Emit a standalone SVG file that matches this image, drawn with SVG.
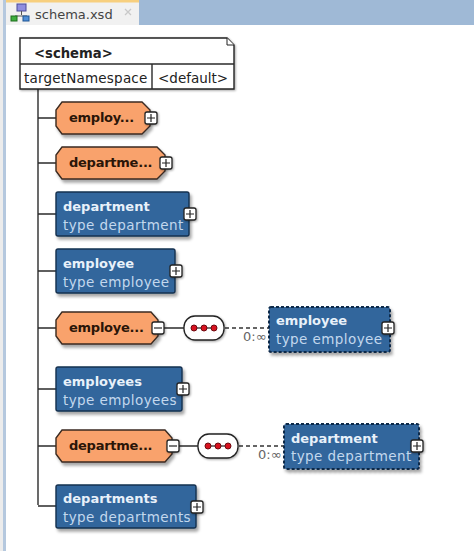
<svg xmlns="http://www.w3.org/2000/svg" width="474" height="551" viewBox="0 0 474 551">
<style>
text{font-family:"DejaVu Sans",sans-serif}
.line{stroke:#2b2b2b;stroke-width:1.4;fill:none}
.dash{stroke:#333;stroke-width:1.4;fill:none;stroke-dasharray:4 3}
.orange{fill:#f9a26c;stroke:#3a2a20;stroke-width:1.4;filter:url(#sh)}
.blue{fill:#33669c;stroke:#14304f;stroke-width:1.4;filter:url(#sh)}
.blued{fill:#33669c;stroke:#0f2a4a;stroke-width:2;stroke-dasharray:3 2;filter:url(#sh)}
.t1{font-size:13px;font-weight:700;fill:#2a1508;letter-spacing:-.25px}
.b1{font-size:13px;font-weight:700;fill:#e8f1fa}
.b2{font-size:13.5px;fill:#c3d8ee;letter-spacing:.42px}
.s{font-size:13.5px;fill:#222;letter-spacing:.2px}
.occ{font-size:13px;fill:#666}
.box{fill:#fff;stroke:#222;stroke-width:1.3;filter:url(#sh2)}
.sym{stroke:#222;stroke-width:1.2;fill:none}
.dot{fill:#d8121f;stroke:#6d0a10;stroke-width:1}
</style>
<defs>
<filter id="sh" x="-10%" y="-15%" width="125%" height="140%"><feDropShadow dx="2" dy="3" stdDeviation="1.6" flood-color="#000" flood-opacity=".35"/></filter>
<filter id="sh2" x="-30%" y="-30%" width="170%" height="170%"><feDropShadow dx="1" dy="1" stdDeviation=".8" flood-color="#000" flood-opacity=".35"/></filter>
<g id="plus"><rect class="box" x="-6" y="-6" width="12" height="12" rx="2"/><path class="sym" d="M-4 0H4M0-4V4"/></g>
<g id="minus"><rect class="box" x="-6" y="-6" width="12" height="12" rx="2"/><path class="sym" d="M-4 0H4"/></g>
<g id="dots"><path class="sym" stroke="#8a0a12" d="M-12 0H12"/><circle class="dot" cx="-10" cy="0" r="3"/><circle class="dot" cx="0" cy="0" r="3"/><circle class="dot" cx="10" cy="0" r="3"/></g>
</defs>
<rect width="474" height="551" fill="#fff"/>
<g id="tabbar">
<rect x="139" y="0" width="335" height="25" fill="#9fb9d6"/>
<rect x="0" y="0" width="139" height="25" fill="#f1f1f1"/>
<rect x="6" y="0" width="133" height="2.5" fill="#f7cf7e"/>
<rect x="3" y="0" width="3" height="551" fill="#b5c8de"/>
<rect x="0" y="0" width="3" height="551" fill="#ececec"/>
<rect x="17" y="4" width="9" height="7" fill="#8f8ee0" stroke="#4a4a99"/>
<path d="M21.500 11V15M15 16H27" stroke="#555" fill="none"/>
<rect x="11" y="16" width="6" height="5" fill="#3fae3f" stroke="#1c6e1c"/>
<rect x="23" y="16" width="6" height="5" fill="#4f8fd8" stroke="#1e5594"/>
<text x="35" y="19" font-size="13" fill="#444">schema.xsd</text>
<path d="M125 9L131 15M131 9L125 15" stroke="#c9c9c9" stroke-width="1.300"/>
</g>
<g id="connectors">
<path class="line" d="M38 89V505"/>
<path class="line" d="M38 118H56M38 163H56M38 214H56M38 271H56M38 328H56M38 389H56M38 446H56M38 506H56"/>
<path class="line" d="M164 328H184M179 446H198"/>
<path class="dash" d="M225 328H269M239 446H284"/>
</g>
<g id="schema">
<path fill="#fff" stroke="#222" stroke-width="1.400" filter="url(#sh2)" d="M20 38H227L234 45V89H20Z"/>
<path fill="#fff" stroke="#222" d="M227 38V45H234"/>
<path class="line" d="M20 64H234M152 64V89"/>
<text x="34" y="58" font-size="13.200" font-weight="700" fill="#222">&lt;schema&gt;</text>
<text class="s" x="24" y="83">targetNamespace</text>
<text x="158" y="83" font-size="13.500" fill="#222">&lt;default&gt;</text>
</g>
<g id="n1"><path class="orange" d="M62 102H142L150 110V126L142 134H62L56 126V110Z"/><text class="t1" x="69" y="122">employ...</text><use href="#plus" x="151" y="118"/></g>
<g id="n2"><path class="orange" d="M62 147H157L165 155V171L157 179H62L56 171V155Z"/><text class="t1" x="69" y="167">departme...</text><use href="#plus" x="166" y="163"/></g>
<g id="n3"><rect class="blue" x="56" y="192" width="133" height="44" rx="2"/><text class="b1" x="63" y="211">department</text><text class="b2" x="63" y="230">type department</text><use href="#plus" x="190" y="214"/></g>
<g id="n4"><rect class="blue" x="56" y="249" width="119" height="44" rx="2"/><text class="b1" x="63" y="268">employee</text><text class="b2" x="63" y="287">type employee</text><use href="#plus" x="176" y="271"/></g>
<g id="n5"><path class="orange" d="M62 312H151L158 320V336L151 344H62L56 336V320Z"/><text class="t1" x="69" y="332">employe...</text><use href="#minus" x="158" y="328"/></g>
<g id="n5seq"><rect x="184" y="316" width="40" height="24" rx="11" class="box"/><use href="#dots" x="204" y="328"/></g>
<text class="occ" x="243" y="341">0:∞</text>
<g id="n5el"><rect class="blued" x="269" y="307" width="121" height="45" rx="2"/><text class="b1" x="276" y="325">employee</text><text class="b2" x="276" y="344">type employee</text><use href="#plus" x="388" y="328"/></g>
<g id="n6"><rect class="blue" x="56" y="367" width="126" height="44" rx="2"/><text class="b1" x="63" y="386">employees</text><text class="b2" x="63" y="405">type employees</text><use href="#plus" x="183" y="389"/></g>
<g id="n7"><path class="orange" d="M62 430H165L172 438V454L165 462H62L56 454V438Z"/><text class="t1" x="69" y="450">departme...</text><use href="#minus" x="173" y="446"/></g>
<g id="n7seq"><rect x="198" y="434" width="40" height="24" rx="11" class="box"/><use href="#dots" x="218" y="446"/></g>
<text class="occ" x="258" y="459">0:∞</text>
<g id="n7el"><rect class="blued" x="284" y="424" width="135" height="45" rx="2"/><text class="b1" x="291" y="443">department</text><text class="b2" x="291" y="461">type department</text><use href="#plus" x="417" y="446"/></g>
<g id="n8"><rect class="blue" x="56" y="485" width="140" height="43" rx="2"/><text class="b1" x="63" y="503">departments</text><text class="b2" x="63" y="522">type departments</text><use href="#plus" x="197" y="507"/></g>
</svg>
